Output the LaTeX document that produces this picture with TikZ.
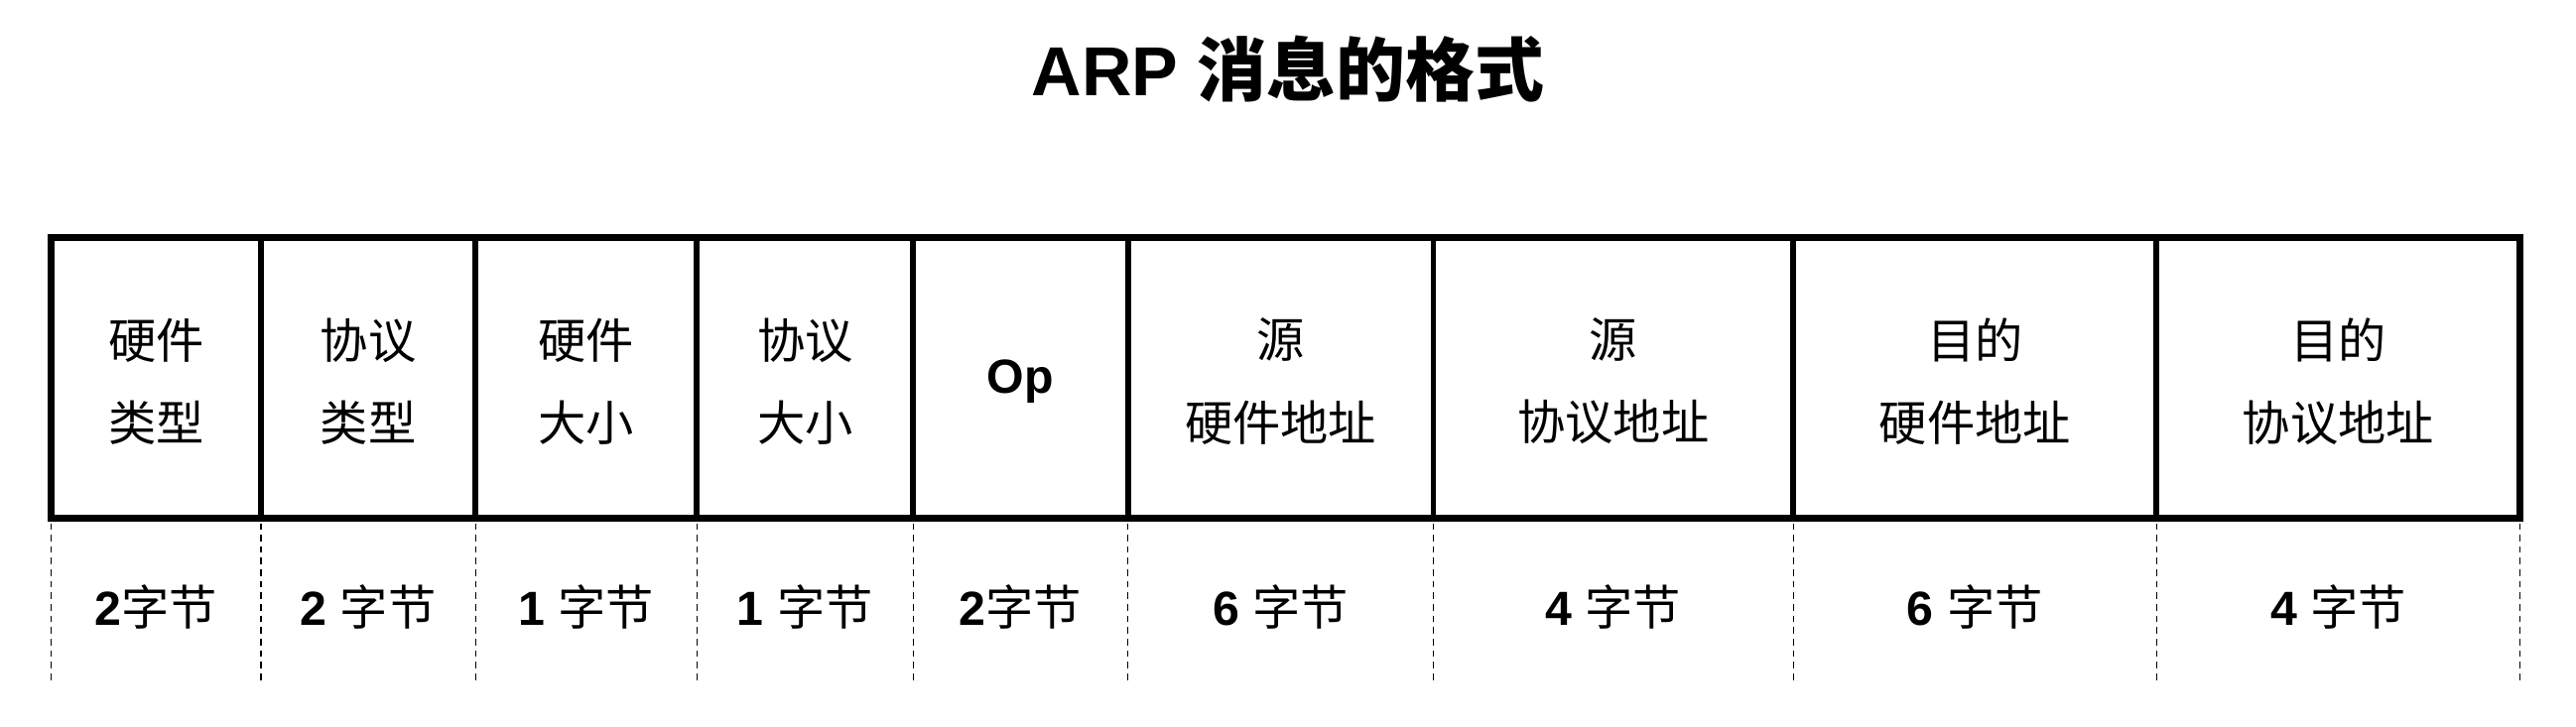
\documentclass[tikz,border=0pt]{standalone}
\usepackage{fontspec}
\setmainfont{Liberation Sans}
\newfontfamily\cjk{Noto Sans CJK SC}
\begin{document}
\begin{tikzpicture}[x=1pt,y=-1pt,
  cell/.style={align=center,font=\fontsize{29}{50}\selectfont\cjk},
  bytes/.style={font=\fontsize{29}{34}\selectfont}]
\useasboundingbox (0,0) rectangle (1560,440);
\node[font=\fontsize{42}{50}\selectfont\bfseries] (title) at (780,42) {ARP {\cjk 消息的格式}};
\foreach \x in {158,288,422,553,683,868,1086,1306}
  \draw[line width=3.5pt] (\x,144) -- (\x,314);
\draw[line width=4.5pt] (31,144) rectangle (1526,314);
\foreach \x in {31,158,288,422,553,683,868,1086,1306,1526}
  \draw[line width=0.8pt,dash pattern=on 4pt off 3pt] (\x,317) -- (\x,413);
\node[cell] (c1) at (94.5,231) {硬件\\类型};
\node[cell] (c2) at (223,231) {协议\\类型};
\node[cell] (c3) at (355,231) {硬件\\大小};
\node[cell] (c4) at (487.5,231) {协议\\大小};
\node[cell,font=\fontsize{29}{34}\selectfont\bfseries] (c5) at (618,231) {Op};
\node[cell] (c6) at (775.5,231) {源\\硬件地址};
\node[cell] (c7) at (977,231) {源\\协议地址};
\node[cell] (c8) at (1196,231) {目的\\硬件地址};
\node[cell] (c9) at (1416,231) {目的\\协议地址};
\node[bytes] (b1) at (94.5,368) {\textbf{2}{\cjk 字节}};
\node[bytes] (b2) at (223,368) {\textbf{2} {\cjk 字节}};
\node[bytes] (b3) at (355,368) {\textbf{1} {\cjk 字节}};
\node[bytes] (b4) at (487.5,368) {\textbf{1} {\cjk 字节}};
\node[bytes] (b5) at (618,368) {\textbf{2}{\cjk 字节}};
\node[bytes] (b6) at (775.5,368) {\textbf{6} {\cjk 字节}};
\node[bytes] (b7) at (977,368) {\textbf{4} {\cjk 字节}};
\node[bytes] (b8) at (1196,368) {\textbf{6} {\cjk 字节}};
\node[bytes] (b9) at (1416,368) {\textbf{4} {\cjk 字节}};
\end{tikzpicture}
\end{document}
